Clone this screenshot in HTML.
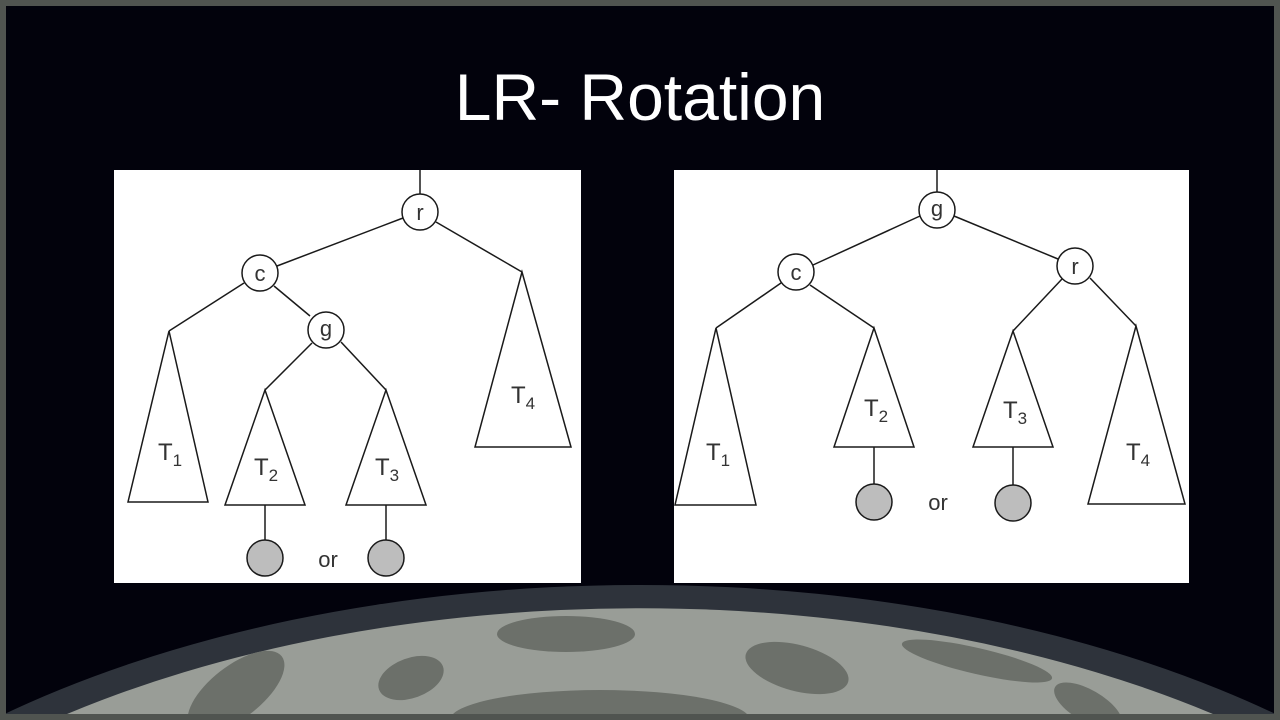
<!DOCTYPE html>
<html><head><meta charset="utf-8"><style>
html,body{margin:0;padding:0;width:1280px;height:720px;overflow:hidden;background:#02020c;}
svg{display:block;position:absolute;left:0;top:0}
</style></head><body>
<svg width="1280" height="720" viewBox="0 0 1280 720" xmlns="http://www.w3.org/2000/svg">
<defs><clipPath id="cl"><rect x="0" y="0" width="1280" height="720"/></clipPath></defs>
<rect width="1280" height="720" fill="#02020c"/>
<!-- moon -->
<path d="M -8 720 A 960 515 0 0 1 1288 720 Z" fill="#2e333b"/>
<path d="M 53 720 A 925 492 0 0 1 1227 720 Z" fill="#999d97"/>
<g fill="#6c706a" clip-path="url(#cl)">
<ellipse cx="566" cy="634" rx="69" ry="18"/>
<ellipse cx="411" cy="678" rx="34" ry="20" transform="rotate(-20 411 678)"/>
<ellipse cx="797" cy="668" rx="53" ry="23" transform="rotate(15 797 668)"/>
<ellipse cx="977" cy="661" rx="77" ry="13" transform="rotate(13 977 661)"/>
<ellipse cx="236" cy="692" rx="58" ry="26" transform="rotate(-38 236 692)"/>
<path d="M 450 720 A 150 30 0 0 1 750 720 Z"/>
<ellipse cx="1088" cy="706" rx="38" ry="16" transform="rotate(30 1088 706)"/>
</g>
<!-- frame -->
<rect x="3" y="3" width="1274" height="714" fill="none" stroke="#505450" stroke-width="6"/>
<!-- title -->
<text x="640" y="120" text-anchor="middle" font-family="Liberation Sans, sans-serif" font-size="66" fill="#ffffff">LR- Rotation</text>
<!-- panels -->
<rect x="114" y="170" width="467" height="413" fill="#ffffff"/>
<rect x="674" y="170" width="515" height="413" fill="#ffffff"/>
<g stroke="#1a1a1a" stroke-width="1.5" fill="none">
<line x1="420" y1="170" x2="420" y2="194"/>
<line x1="403" y1="218" x2="277" y2="266"/>
<line x1="436" y1="222" x2="522" y2="272"/>
<line x1="244" y1="283" x2="169" y2="331"/>
<line x1="274" y1="286" x2="310" y2="316"/>
<line x1="312" y1="343" x2="265" y2="390"/>
<line x1="341" y1="342" x2="386" y2="390"/>
<polygon points="169,331 128,502 208,502"/>
<polygon points="265,390 225,505 305,505"/>
<polygon points="386,390 346,505 426,505"/>
<polygon points="522,272 475,447 571,447"/>
<line x1="265" y1="505" x2="265" y2="540"/>
<line x1="386" y1="505" x2="386" y2="540"/>
<circle cx="420" cy="212" r="18" fill="#fff"/>
<circle cx="260" cy="273" r="18" fill="#fff"/>
<circle cx="326" cy="330" r="18" fill="#fff"/>
<circle cx="265" cy="558" r="18" fill="#bdbdbd"/>
<circle cx="386" cy="558" r="18" fill="#bdbdbd"/>
<line x1="937" y1="170" x2="937" y2="192"/>
<line x1="920" y1="216" x2="813" y2="265"/>
<line x1="954" y1="216" x2="1058" y2="259"/>
<line x1="781" y1="283" x2="716" y2="328"/>
<line x1="810" y1="285" x2="874" y2="328"/>
<line x1="1062" y1="279" x2="1013" y2="331"/>
<line x1="1090" y1="278" x2="1136" y2="326"/>
<polygon points="716,328 675,505 756,505"/>
<polygon points="874,328 834,447 914,447"/>
<polygon points="1013,331 973,447 1053,447"/>
<polygon points="1136,326 1088,504 1185,504"/>
<line x1="874" y1="447" x2="874" y2="484"/>
<line x1="1013" y1="447" x2="1013" y2="485"/>
<circle cx="937" cy="210" r="18" fill="#fff"/>
<circle cx="796" cy="272" r="18" fill="#fff"/>
<circle cx="1075" cy="266" r="18" fill="#fff"/>
<circle cx="874" cy="502" r="18" fill="#bdbdbd"/>
<circle cx="1013" cy="503" r="18" fill="#bdbdbd"/>
</g>
<g font-family="Liberation Sans, sans-serif" fill="#333" font-size="22" text-anchor="middle">
<text x="420" y="220">r</text>
<text x="260" y="281">c</text>
<text x="326" y="336">g</text>
<text x="937" y="216">g</text>
<text x="796" y="280">c</text>
<text x="1075" y="274">r</text>
<text x="328" y="567">or</text>
<text x="938" y="510">or</text>
</g>
<g font-family="Liberation Sans, sans-serif" fill="#333" font-size="24">
<text x="158" y="460">T<tspan font-size="17" dy="6">1</tspan></text>
<text x="254" y="475">T<tspan font-size="17" dy="6">2</tspan></text>
<text x="375" y="475">T<tspan font-size="17" dy="6">3</tspan></text>
<text x="511" y="403">T<tspan font-size="17" dy="6">4</tspan></text>
<text x="706" y="460">T<tspan font-size="17" dy="6">1</tspan></text>
<text x="864" y="416">T<tspan font-size="17" dy="6">2</tspan></text>
<text x="1003" y="418">T<tspan font-size="17" dy="6">3</tspan></text>
<text x="1126" y="460">T<tspan font-size="17" dy="6">4</tspan></text>
</g>
</svg>
</body></html>
